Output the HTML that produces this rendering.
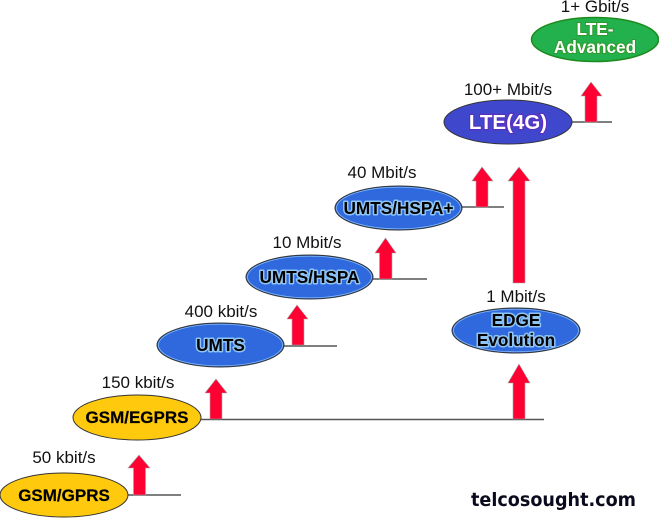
<!DOCTYPE html>
<html><head><meta charset="utf-8"><style>
html,body{margin:0;padding:0;background:#fff;width:659px;height:518px;overflow:hidden}
svg{display:block}
text{font-family:"Liberation Sans",sans-serif;text-anchor:middle}
.r{font-size:17px;fill:#111}
.b{font-size:17px;font-weight:bold;fill:#000;stroke:#000;stroke-width:.2px}
.h{font-size:17.200px;font-weight:bold;fill:#000;stroke:#8ec5f5;stroke-width:3px;paint-order:stroke;stroke-linejoin:round}
.e{stroke:#333;stroke-width:1}
.i{fill:none;stroke:#8ec5f5;stroke-width:.7}
.a{fill:#ff0033;stroke:#a8a8a8;stroke-width:.6}
.l{stroke:#555;stroke-width:1.5;fill:none}
</style></head><body>
<svg width="659" height="518" viewBox="0 0 659 518" xmlns="http://www.w3.org/2000/svg">
<path class="l" d="M128 495H181M201 419.500H544M284 346H337M373 279H427M462 207H504M572 122H612"/>
<path class="a" d="M139 455L150 468H145.500V495H133.500V468H128Z"/>
<path class="a" d="M216 379L227 393H222V419H210V393H205Z"/>
<path class="a" d="M297 305L308 319H304V345H292V319H287Z"/>
<path class="a" d="M385.500 238L396 253H392V279H379.500V253H375Z"/>
<path class="a" d="M482 167L493 181H488V207H476V181H472Z"/>
<path class="a" d="M591 82L602 96H597V122H585V96H581Z"/>
<path class="a" d="M519 364L530 383H525V419H513V383H508Z"/>
<path class="a" d="M519 167L530 181H525V283H513V181H508Z"/>
<ellipse class="e" cx="64" cy="495" rx="64" ry="22" fill="#ffc90e"/>
<ellipse class="e" cx="137" cy="417.500" rx="64" ry="22.500" fill="#ffc90e"/>
<ellipse class="e" cx="220.500" cy="345" rx="63.500" ry="22" fill="#2f69dd"/>
<ellipse class="i" cx="220.500" cy="345" rx="62" ry="20.800"/>
<ellipse class="e" cx="309.500" cy="277" rx="63.500" ry="22" fill="#2f69dd"/>
<ellipse class="i" cx="309.500" cy="277" rx="62" ry="20.800"/>
<ellipse class="e" cx="398.500" cy="208" rx="63.500" ry="22" fill="#2f69dd"/>
<ellipse class="i" cx="398.500" cy="208" rx="62" ry="20.800"/>
<ellipse class="e" cx="516" cy="330.500" rx="64" ry="22.500" fill="#2f69dd"/>
<ellipse class="i" cx="516" cy="330.500" rx="62.500" ry="21.300"/>
<ellipse class="e" cx="508" cy="122" rx="64" ry="22" fill="#3f48cc"/>
<ellipse cx="595" cy="39.500" rx="63.500" ry="22" fill="#22b14c" stroke="#1e8a1e" stroke-width="1.500"/>
<text class="r" x="64" y="463">50 kbit/s</text>
<text class="r" x="138" y="388">150 kbit/s</text>
<text class="r" x="221" y="317">400 kbit/s</text>
<text class="r" x="307" y="248">10 Mbit/s</text>
<text class="r" x="382" y="178">40 Mbit/s</text>
<text class="r" x="516" y="302">1 Mbit/s</text>
<text class="r" x="508" y="95">100+ Mbit/s</text>
<text class="r" x="595" y="12">1+ Gbit/s</text>
<text class="b" x="64" y="501">GSM/GPRS</text>
<text class="b" x="137" y="423">GSM/EGPRS</text>
<text class="h" x="220.500" y="351">UMTS</text>
<text class="h" x="309.500" y="283">UMTS/HSPA</text>
<text class="h" x="398.500" y="214">UMTS/HSPA+</text>
<text class="h" x="516" y="326">EDGE</text>
<text class="h" x="516" y="346">Evolution</text>
<text x="508" y="129" font-size="20.500" font-weight="bold" fill="#fff" stroke="#5a2fc0" stroke-width="2.500" paint-order="stroke">LTE(4G)</text>
<text x="595" y="35" font-size="17.200" font-weight="bold" fill="#fff" stroke="#2f9a2f" stroke-width="2" paint-order="stroke">LTE-</text>
<text x="595" y="53" font-size="17.200" font-weight="bold" fill="#fff" stroke="#2f9a2f" stroke-width="2" paint-order="stroke">Advanced</text>
<text x="553.500" y="506" style="font-family:'DejaVu Sans',sans-serif" font-size="19" font-weight="bold" fill="#0a0a1e" textLength="165" lengthAdjust="spacingAndGlyphs">telcosought.com</text>
</svg>
</body></html>
